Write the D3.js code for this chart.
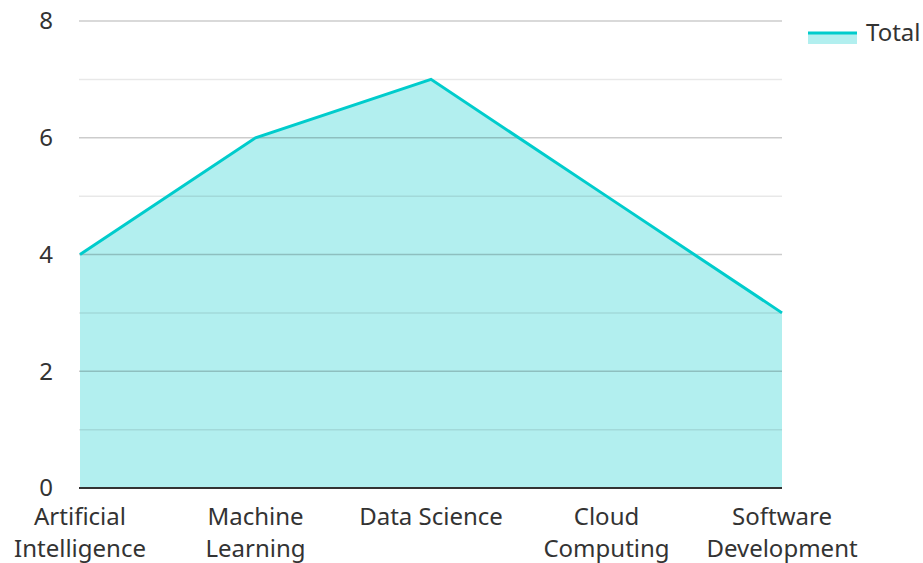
<!DOCTYPE html>
<html><head><meta charset="utf-8">
<script src="https://cdn.jsdelivr.net/npm/d3@7"></script>
<style>body{margin:0;background:#fff}svg{display:block}text{font-family:"Noto Sans","Open Sans",sans-serif;fill:#333}</style>
</head><body><svg id="c" width="923" height="563"></svg>
<script>
const categories = ["Artificial Intelligence","Machine Learning","Data Science","Cloud Computing","Software Development"];
const values = [4, 6, 7, 5, 3];
const majorTicks = [0, 2, 4, 6, 8];
const minorTicks = [1, 3, 5, 7];
const seriesName = "Total";

(function(){
const svg = d3.select("#c");
const pLeft = 80, pRight = 782, pTop = 21, pBottom = 488;
const fs = 24;
const x = d3.scalePoint().domain(categories).range([pLeft, pRight]);
const y = d3.scaleLinear().domain([0, 8]).range([pBottom, pTop]);

const data = categories.map((c, i) => ({c, v: values[i]}));
const area = d3.area().x(d => x(d.c)).y0(y(0)).y1(d => y(d.v));
const line = d3.line().x(d => x(d.c)).y(d => y(d.v));

svg.append("path").datum(data).attr("d", area).attr("fill", "#b2efef");

svg.selectAll(".minor").data(minorTicks).enter().append("line")
  .attr("x1", pLeft - 1).attr("x2", pRight).attr("y1", d => y(d)).attr("y2", d => y(d))
  .attr("stroke", "rgba(0,0,0,0.09)").attr("stroke-width", 1.5);
svg.selectAll(".major").data(majorTicks.filter(d => d > 0)).enter().append("line")
  .attr("x1", pLeft - 1).attr("x2", pRight).attr("y1", d => y(d)).attr("y2", d => y(d))
  .attr("stroke", "rgba(0,0,0,0.2)").attr("stroke-width", 1.5);

svg.append("path").datum(data).attr("d", line).attr("fill", "none")
  .attr("stroke", "#00cccc").attr("stroke-width", 3).attr("stroke-linejoin", "miter");

svg.append("line").attr("x1", pLeft - 1).attr("x2", pRight).attr("y1", y(0)).attr("y2", y(0))
  .attr("stroke", "#333").attr("stroke-width", 2);

svg.selectAll(".yl").data(majorTicks).enter().append("text")
  .attr("x", 53).attr("y", d => y(d)).attr("dy", "0.35em").attr("text-anchor", "end")
  .attr("font-size", fs).text(d => d);

const xl = svg.selectAll(".xl").data(categories).enter().append("text")
  .attr("text-anchor", "middle").attr("font-size", fs);
xl.each(function(d) {
  const t = d3.select(this);
  t.text(d).attr("x", x(d)).attr("y", 525);
  if (this.getComputedTextLength() > 165) {
    t.text(null);
    d.split(" ").forEach((w, i) => {
      t.append("tspan").attr("x", x(d)).attr("y", 525 + i * 32).text(w);
    });
  }
});

svg.append("rect").attr("x", 808).attr("y", 33).attr("width", 49).attr("height", 11).attr("fill", "#b2efef");
svg.append("line").attr("x1", 808).attr("x2", 857).attr("y1", 33).attr("y2", 33)
  .attr("stroke", "#00cccc").attr("stroke-width", 3);
svg.append("text").attr("x", 866).attr("y", 33).attr("dy", "0.35em").attr("font-size", fs).text(seriesName);
})();
</script></body></html>
